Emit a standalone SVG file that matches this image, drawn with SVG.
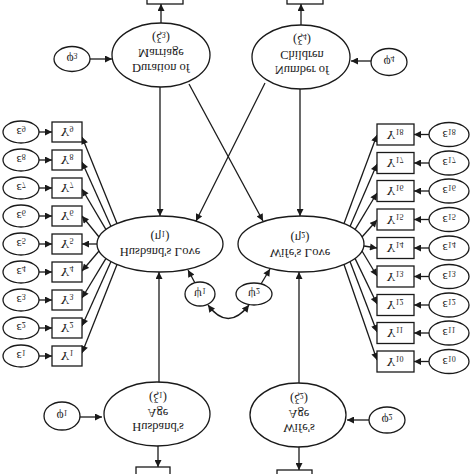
<svg xmlns="http://www.w3.org/2000/svg" width="474" height="474" viewBox="0 0 474 474">
<style>
.s{fill:#fff;stroke:#1a1a1a;stroke-width:1.3}
.c line,.c path{stroke:#1a1a1a;stroke-width:1.3;fill:none}
.a{marker-end:url(#ah)}
text{font-family:"Liberation Serif","Times New Roman",serif;fill:#1a1a1a;text-anchor:middle}
.t{font-size:12.5px}
.y{font-size:12.5px}
.sub{font-size:8px}
</style>
<defs>
<marker id="ah" viewBox="0 0 10 10" refX="10" refY="5" markerWidth="8" markerHeight="7" markerUnits="userSpaceOnUse" orient="auto-start-reverse">
<path d="M0,0 L10,5 L0,10 z" fill="#1a1a1a"/>
</marker>
</defs>
<rect width="474" height="474" fill="#fff"/>

<g class="c" id="connectors">
<line class="a" x1="39" y1="132" x2="52" y2="132"/>
<line class="a" x1="39" y1="160" x2="52" y2="160"/>
<line class="a" x1="39" y1="188" x2="52" y2="188"/>
<line class="a" x1="39" y1="216" x2="52" y2="216"/>
<line class="a" x1="39" y1="244" x2="52" y2="244"/>
<line class="a" x1="39" y1="272" x2="52" y2="272"/>
<line class="a" x1="39" y1="300" x2="52" y2="300"/>
<line class="a" x1="39" y1="328" x2="52" y2="328"/>
<line class="a" x1="39" y1="356" x2="52" y2="356"/>
<line class="a" x1="117" y1="223.5" x2="82" y2="137"/>
<line class="a" x1="111" y1="226.4" x2="82" y2="162"/>
<line class="a" x1="106" y1="229.6" x2="82" y2="189"/>
<line class="a" x1="99" y1="237" x2="82" y2="216"/>
<line class="a" x1="97" y1="244" x2="82" y2="244"/>
<line class="a" x1="99" y1="251" x2="82" y2="271"/>
<line class="a" x1="106" y1="258.4" x2="82" y2="298"/>
<line class="a" x1="111" y1="261.6" x2="82" y2="326"/>
<line class="a" x1="117" y1="264.5" x2="82" y2="353"/>
<line class="a" x1="429" y1="134.5" x2="414" y2="134.5"/>
<line class="a" x1="429" y1="163" x2="414" y2="163"/>
<line class="a" x1="429" y1="191" x2="414" y2="191"/>
<line class="a" x1="429" y1="219.5" x2="414" y2="219.5"/>
<line class="a" x1="429" y1="248" x2="414" y2="248"/>
<line class="a" x1="429" y1="276.5" x2="414" y2="276.5"/>
<line class="a" x1="429" y1="305" x2="414" y2="305"/>
<line class="a" x1="429" y1="333" x2="414" y2="333"/>
<line class="a" x1="429" y1="361.5" x2="414" y2="361.5"/>
<line class="a" x1="344" y1="223.5" x2="377" y2="135"/>
<line class="a" x1="350" y1="226.4" x2="377" y2="164"/>
<line class="a" x1="355" y1="229.6" x2="377" y2="193"/>
<line class="a" x1="362" y1="237" x2="377" y2="220"/>
<line class="a" x1="364" y1="246" x2="377" y2="248"/>
<line class="a" x1="362" y1="251" x2="377" y2="276"/>
<line class="a" x1="355" y1="258.4" x2="377" y2="304"/>
<line class="a" x1="350" y1="261.6" x2="377" y2="332"/>
<line class="a" x1="344" y1="264.5" x2="377" y2="360"/>
<line class="a" x1="90" y1="59" x2="112" y2="59"/>
<line class="a" x1="371" y1="61" x2="351" y2="61"/>
<line class="a" x1="80" y1="417" x2="102" y2="417"/>
<line class="a" x1="369" y1="420" x2="347" y2="420"/>
<line class="a" x1="161" y1="23" x2="161" y2="4"/>
<line class="a" x1="301" y1="25" x2="301" y2="4"/>
<line class="a" x1="158" y1="446" x2="158" y2="467"/>
<line class="a" x1="299" y1="447" x2="299" y2="470"/>
<line class="a" x1="160" y1="87" x2="160" y2="216"/>
<line class="a" x1="189" y1="84" x2="263" y2="221"/>
<line class="a" x1="265" y1="83" x2="196" y2="221"/>
<line class="a" x1="300" y1="89" x2="300" y2="216"/>
<line class="a" x1="159" y1="383" x2="159" y2="272"/>
<line class="a" x1="299" y1="383" x2="299" y2="272"/>
<line class="a" x1="195" y1="283" x2="188" y2="270"/>
<line class="a" x1="261" y1="284" x2="270" y2="269"/>
<path d="M208,305 Q228,332 249,305" marker-start="url(#ah)" marker-end="url(#ah)"/>
</g>

<g id="duration">
<ellipse class="s" cx="161" cy="55" rx="49" ry="32"/>
<text class="t" transform="translate(161,38) scale(1,-1)" y="4">(ξ<tspan class="sub" dy="2">3</tspan><tspan dy="-2">)</tspan></text>
<text class="t" transform="translate(161,53) scale(1,-1)" y="4">Marriage</text>
<text class="t" transform="translate(161,68) scale(1,-1)" y="4">Duration of</text>
</g>
<g id="children">
<ellipse class="s" cx="301" cy="57" rx="49" ry="32"/>
<text class="t" transform="translate(302,40) scale(1,-1)" y="4">(ξ<tspan class="sub" dy="2">4</tspan><tspan dy="-2">)</tspan></text>
<text class="t" transform="translate(302,55) scale(1,-1)" y="4">Children</text>
<text class="t" transform="translate(302,70) scale(1,-1)" y="4">Number of</text>
</g>
<g id="husbandlove">
<ellipse class="s" cx="160" cy="244" rx="63" ry="28"/>
<text class="t" transform="translate(160,237) scale(1,-1)" y="4">(η<tspan class="sub" dy="2">1</tspan><tspan dy="-2">)</tspan></text>
<text class="t" transform="translate(160,252) scale(1,-1)" y="4">Husband's Love</text>
</g>
<g id="wifelove">
<ellipse class="s" cx="301" cy="244" rx="63" ry="28"/>
<text class="t" transform="translate(300,238) scale(1,-1)" y="4">(η<tspan class="sub" dy="2">2</tspan><tspan dy="-2">)</tspan></text>
<text class="t" transform="translate(300,253) scale(1,-1)" y="4">Wife's Love</text>
</g>
<g id="husbandage">
<ellipse class="s" cx="157" cy="414" rx="53" ry="32"/>
<text class="t" transform="translate(158,398) scale(1,-1)" y="4">(ξ<tspan class="sub" dy="2">1</tspan><tspan dy="-2">)</tspan></text>
<text class="t" transform="translate(158,413) scale(1,-1)" y="4">Age</text>
<text class="t" transform="translate(158,427) scale(1,-1)" y="4">Husband's</text>
</g>
<g id="wifeage">
<ellipse class="s" cx="298" cy="415" rx="48" ry="32"/>
<text class="t" transform="translate(299,399) scale(1,-1)" y="4">(ξ<tspan class="sub" dy="2">2</tspan><tspan dy="-2">)</tspan></text>
<text class="t" transform="translate(299,414) scale(1,-1)" y="4">Age</text>
<text class="t" transform="translate(299,428) scale(1,-1)" y="4">Wife's</text>
</g>

<g id="phi3"><ellipse class="s" cx="72" cy="59" rx="18" ry="12.5"/><text class="y" transform="translate(72,59) scale(1,-1)" y="4">φ<tspan class="sub" dy="2">3</tspan></text></g>
<g id="phi4"><ellipse class="s" cx="389" cy="62" rx="18" ry="13.5"/><text class="y" transform="translate(389,62) scale(1,-1)" y="4">φ<tspan class="sub" dy="2">4</tspan></text></g>
<g id="phi1"><ellipse class="s" cx="62" cy="416" rx="18" ry="14"/><text class="y" transform="translate(62,416) scale(1,-1)" y="4">φ<tspan class="sub" dy="2">1</tspan></text></g>
<g id="phi2"><ellipse class="s" cx="387" cy="420" rx="18" ry="13"/><text class="y" transform="translate(387,420) scale(1,-1)" y="4">φ<tspan class="sub" dy="2">2</tspan></text></g>
<g id="psi1"><ellipse class="s" cx="200" cy="294" rx="15" ry="12"/><text class="y" transform="translate(200,294) scale(1,-1)" y="4">ψ<tspan class="sub" dy="2">1</tspan></text></g>
<g id="psi2"><ellipse class="s" cx="254" cy="294" rx="18" ry="11"/><text class="y" transform="translate(254,294) scale(1,-1)" y="4">ψ<tspan class="sub" dy="2">2</tspan></text></g>

<g id="topbox1"><rect class="s" x="147" y="-10" width="36" height="14"/></g>
<g id="topbox2"><rect class="s" x="287" y="-10" width="36" height="14"/></g>
<g id="botbox1"><rect class="s" x="136" y="467" width="34" height="14"/></g>
<g id="botbox2"><rect class="s" x="277" y="470" width="35" height="14"/></g>

<g id="Y9"><rect class="s" x="52" y="122" width="30" height="20"/><text class="y" transform="translate(67,132) scale(1,-1)" y="4">Y<tspan class="sub" dy="2">9</tspan></text></g>
<g id="Y8"><rect class="s" x="52" y="150" width="30" height="20"/><text class="y" transform="translate(67,160) scale(1,-1)" y="4">Y<tspan class="sub" dy="2">8</tspan></text></g>
<g id="Y7"><rect class="s" x="52" y="178" width="30" height="20"/><text class="y" transform="translate(67,188) scale(1,-1)" y="4">Y<tspan class="sub" dy="2">7</tspan></text></g>
<g id="Y6"><rect class="s" x="52" y="206" width="30" height="20"/><text class="y" transform="translate(67,216) scale(1,-1)" y="4">Y<tspan class="sub" dy="2">6</tspan></text></g>
<g id="Y5"><rect class="s" x="52" y="234" width="30" height="20"/><text class="y" transform="translate(67,244) scale(1,-1)" y="4">Y<tspan class="sub" dy="2">5</tspan></text></g>
<g id="Y4"><rect class="s" x="52" y="262" width="30" height="20"/><text class="y" transform="translate(67,272) scale(1,-1)" y="4">Y<tspan class="sub" dy="2">4</tspan></text></g>
<g id="Y3"><rect class="s" x="52" y="290" width="30" height="20"/><text class="y" transform="translate(67,300) scale(1,-1)" y="4">Y<tspan class="sub" dy="2">3</tspan></text></g>
<g id="Y2"><rect class="s" x="52" y="318" width="30" height="20"/><text class="y" transform="translate(67,328) scale(1,-1)" y="4">Y<tspan class="sub" dy="2">2</tspan></text></g>
<g id="Y1"><rect class="s" x="52" y="346" width="30" height="20"/><text class="y" transform="translate(67,356) scale(1,-1)" y="4">Y<tspan class="sub" dy="2">1</tspan></text></g>

<g id="e9"><ellipse class="s" cx="21" cy="132" rx="18" ry="11"/><text class="y" transform="translate(21,132) scale(1,-1)" y="4">ε<tspan class="sub" dy="2">9</tspan></text></g>
<g id="e8"><ellipse class="s" cx="21" cy="160" rx="18" ry="11"/><text class="y" transform="translate(21,160) scale(1,-1)" y="4">ε<tspan class="sub" dy="2">8</tspan></text></g>
<g id="e7"><ellipse class="s" cx="21" cy="188" rx="18" ry="11"/><text class="y" transform="translate(21,188) scale(1,-1)" y="4">ε<tspan class="sub" dy="2">7</tspan></text></g>
<g id="e6"><ellipse class="s" cx="21" cy="216" rx="18" ry="11"/><text class="y" transform="translate(21,216) scale(1,-1)" y="4">ε<tspan class="sub" dy="2">6</tspan></text></g>
<g id="e5"><ellipse class="s" cx="21" cy="244" rx="18" ry="11"/><text class="y" transform="translate(21,244) scale(1,-1)" y="4">ε<tspan class="sub" dy="2">5</tspan></text></g>
<g id="e4"><ellipse class="s" cx="21" cy="272" rx="18" ry="11"/><text class="y" transform="translate(21,272) scale(1,-1)" y="4">ε<tspan class="sub" dy="2">4</tspan></text></g>
<g id="e3"><ellipse class="s" cx="21" cy="300" rx="18" ry="11"/><text class="y" transform="translate(21,300) scale(1,-1)" y="4">ε<tspan class="sub" dy="2">3</tspan></text></g>
<g id="e2"><ellipse class="s" cx="21" cy="328" rx="18" ry="11"/><text class="y" transform="translate(21,328) scale(1,-1)" y="4">ε<tspan class="sub" dy="2">2</tspan></text></g>
<g id="e1"><ellipse class="s" cx="21" cy="356" rx="18" ry="11"/><text class="y" transform="translate(21,356) scale(1,-1)" y="4">ε<tspan class="sub" dy="2">1</tspan></text></g>

<g id="Y18"><rect class="s" x="377" y="124" width="37" height="21"/><text class="y" transform="translate(395,134.5) scale(1,-1)" y="4">Y<tspan class="sub" dy="2">18</tspan></text></g>
<g id="Y17"><rect class="s" x="377" y="152.5" width="37" height="21"/><text class="y" transform="translate(395,163) scale(1,-1)" y="4">Y<tspan class="sub" dy="2">17</tspan></text></g>
<g id="Y16"><rect class="s" x="377" y="180.5" width="37" height="21"/><text class="y" transform="translate(395,191) scale(1,-1)" y="4">Y<tspan class="sub" dy="2">16</tspan></text></g>
<g id="Y15"><rect class="s" x="377" y="209" width="37" height="21"/><text class="y" transform="translate(395,219.5) scale(1,-1)" y="4">Y<tspan class="sub" dy="2">15</tspan></text></g>
<g id="Y14"><rect class="s" x="377" y="237.5" width="37" height="21"/><text class="y" transform="translate(395,248) scale(1,-1)" y="4">Y<tspan class="sub" dy="2">14</tspan></text></g>
<g id="Y13"><rect class="s" x="377" y="266" width="37" height="21"/><text class="y" transform="translate(395,276.5) scale(1,-1)" y="4">Y<tspan class="sub" dy="2">13</tspan></text></g>
<g id="Y12"><rect class="s" x="377" y="294.5" width="37" height="21"/><text class="y" transform="translate(395,305) scale(1,-1)" y="4">Y<tspan class="sub" dy="2">12</tspan></text></g>
<g id="Y11"><rect class="s" x="377" y="322.5" width="37" height="21"/><text class="y" transform="translate(395,333) scale(1,-1)" y="4">Y<tspan class="sub" dy="2">11</tspan></text></g>
<g id="Y10"><rect class="s" x="377" y="351" width="37" height="21"/><text class="y" transform="translate(395,361.5) scale(1,-1)" y="4">Y<tspan class="sub" dy="2">10</tspan></text></g>

<g id="e18"><ellipse class="s" cx="449" cy="134.5" rx="20" ry="12"/><text class="y" transform="translate(449,134.5) scale(1,-1)" y="4">ε<tspan class="sub" dy="2">18</tspan></text></g>
<g id="e17"><ellipse class="s" cx="449" cy="163" rx="20" ry="12"/><text class="y" transform="translate(449,163) scale(1,-1)" y="4">ε<tspan class="sub" dy="2">17</tspan></text></g>
<g id="e16"><ellipse class="s" cx="449" cy="191" rx="20" ry="12"/><text class="y" transform="translate(449,191) scale(1,-1)" y="4">ε<tspan class="sub" dy="2">16</tspan></text></g>
<g id="e15"><ellipse class="s" cx="449" cy="219.5" rx="20" ry="12"/><text class="y" transform="translate(449,219.5) scale(1,-1)" y="4">ε<tspan class="sub" dy="2">15</tspan></text></g>
<g id="e14"><ellipse class="s" cx="449" cy="248" rx="20" ry="12"/><text class="y" transform="translate(449,248) scale(1,-1)" y="4">ε<tspan class="sub" dy="2">14</tspan></text></g>
<g id="e13"><ellipse class="s" cx="449" cy="276.5" rx="20" ry="12"/><text class="y" transform="translate(449,276.5) scale(1,-1)" y="4">ε<tspan class="sub" dy="2">13</tspan></text></g>
<g id="e12"><ellipse class="s" cx="449" cy="305" rx="20" ry="12"/><text class="y" transform="translate(449,305) scale(1,-1)" y="4">ε<tspan class="sub" dy="2">12</tspan></text></g>
<g id="e11"><ellipse class="s" cx="449" cy="333" rx="20" ry="12"/><text class="y" transform="translate(449,333) scale(1,-1)" y="4">ε<tspan class="sub" dy="2">11</tspan></text></g>
<g id="e10"><ellipse class="s" cx="449" cy="361.5" rx="20" ry="12"/><text class="y" transform="translate(449,361.5) scale(1,-1)" y="4">ε<tspan class="sub" dy="2">10</tspan></text></g>
</svg>
